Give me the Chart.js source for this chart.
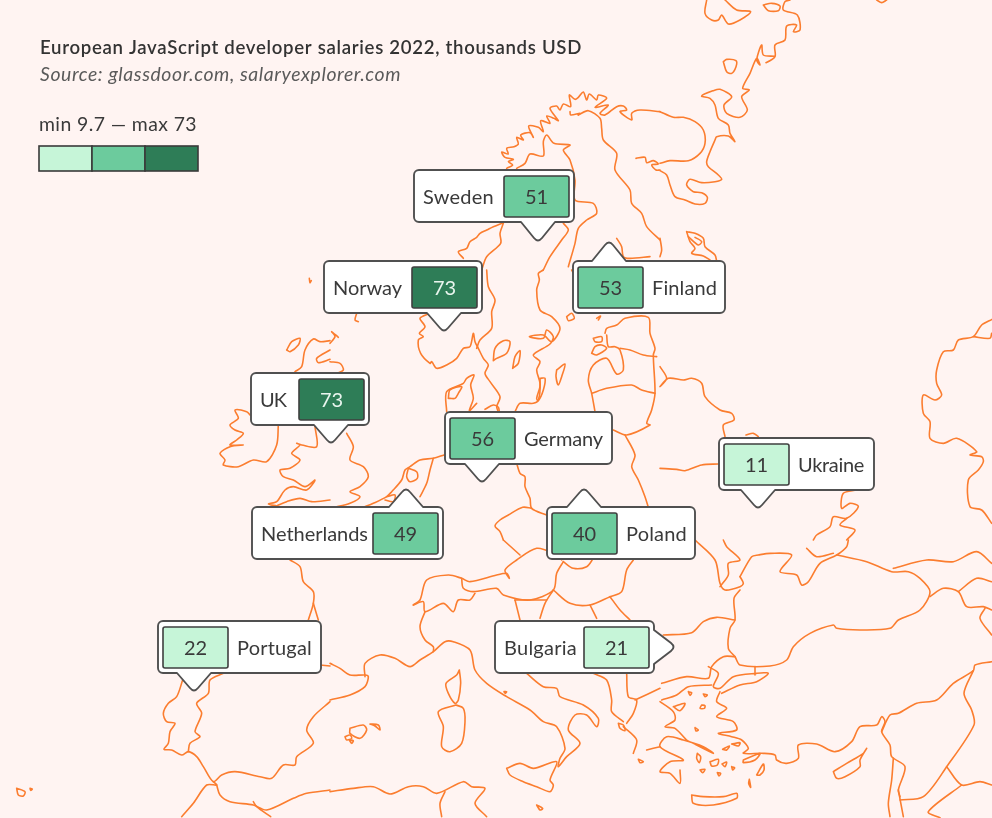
<!DOCTYPE html>
<html><head><meta charset="utf-8">
<style>html,body{margin:0;padding:0;background:#fff4f2;overflow:hidden}canvas{display:block}</style>
<script src="https://cdn.jsdelivr.net/npm/chart.js@4"></script>
</head><body><canvas id="c" width="992" height="818"></canvas>
<script>
// Chart values
const countries = ["Sweden","Norway","Finland","UK","Germany","Ukraine","Netherlands","Poland","Portugal","Bulgaria"];
const salaries  = [51,73,53,73,56,11,49,40,22,21];
const legendMin = 9.7, legendMax = 73;
const binColors = ["#c6f5d8","#6ccb9d","#2e7d57"];
const binEdges  = [30,60];
// Where each callout points on the map (map units: 3 per px)
const tipX = [1614,1332,1827,993,1446,2274,1218,1752,582,2022];
const tipY = [723,993,726,1329,1446,1524,1467,1467,2073,1941];
const tipDir = ["down","down","up","down","down","down","up","up","down","right"];
// Callout box, in map units
const boxLeft  = [1242,972,1719,753,1335,2157,756,1641,474,1485];
const boxRight = [1722,1446,2175,1107,1836,2622,1329,2085,963,1962];
const boxTop   = [510,783,783,1119,1236,1314,1521,1521,1863,1863];
const swatchOnLeft = [false,false,true,false,true,true,false,true,true,false];
const labelWidth = [71,69,65,26,79,66,107,61,75,73];

// Map outlines: [panelColumn, panelRow, x,y, x,y, ...]
const scandinaviaCoast = [1,0, 400,775,385,755,410,745,420,725,440,712,450,700,470,690,490,680,520,668];
const norwayNorthCoast = [1,0, 530,505,548,495,535,485,550,478,525,472,515,456,535,462,530,445,552,440,565,432,560,412,580,420,572,405,600,398,610,412,596,378,625,382,640,395,632,362,660,370,650,348,672,355,685,362,660,325,680,318,690,330,700,312,722,320,718,285,735,298,745,292,760,276,770,300,778,282,800,300,805,285,830,295,795,322,835,315,810,340,825,345,860,320,880,318,890,330,870,335,905,360,905,340,930,330,990,335];
const norwaySwedenBorder = [1,0, 560,505,585,490,600,462,640,468,640,425,650,405,672,430,720,435,700,450,720,480,735,540,735,600,790,610,800,640,770,660,745,685,735,730,715,800];
const norwaySwedenBorder2 = [1,0, 520,670,510,700,512,730,470,770,455,810];
const swedenBothniaCoast = [1,0, 700,670,715,690,695,720,660,770,640,810];
const finlandRussiaBorder = [1,0, 745,345,775,332,810,355,815,385,820,420,860,460,855,510,900,570,905,610,935,640,950,680,990,720];
const finlandNorthEdge = [1,0, 745,345,750,340,722,345,720,335];
const kolaNorth = [2,0, 0,335,40,352,70,352,105,365,130,390,135,430,120,460,85,482,30,482,0,490];
const kolaInlet = [1,0, 918,475,945,472,950,488,970,482,985,492,965,495,978,510,990,510];
const whiteSeaCoast = [2,0, 0,512,20,525,30,555,45,590,75,600,105,612,135,610,142,592,125,578,100,575,80,555,90,538,125,548,165,545,185,538,175,525,145,500,140,485,150,455,165,420,170,410,205,408,225,425,210,400,205,375,175,355,165,315,150,295,125,288,160,272,180,268,215,290,192,315,200,340,240,352,262,330,245,290,268,270,248,265,270,220,290,175,300,195,290,180,305,135,310,165,345,170,318,188,345,170,345,135,375,120,380,78,410,75,400,95,420,90,412,45,370,30,375,5,390,0];
const novayaSouth = [2,0, 140,0,135,40,155,60,175,60,185,45,205,72,240,60,272,35,230,30,195,0];
const arcticIsle = [2,0, 310,15,325,32,355,32,360,18,335,10,310,15];
const arcticIsle2 = [2,0, 650,0,665,8,680,0];
const smallLake = [2,0, 190,185,200,215,215,220,228,200,228,182,200,178,190,185];
const onega = [2,0, 80,695,105,700,130,715,135,740,165,765,170,785];
const ladoga = [2,0, 80,695,90,725,105,745,95,760,130,768,150,780];
const ladogaIn = [2,0, 85,710,115,735,125,725,105,712];
const edgeLake = [2,0, 0,715,5,750,0,770];
const topLeftIsle = [0,1, 928,25,930,38,934,32];
const finlandSW = [1,0, 860,715,875,740,880,770,900,775,960,770];

const norwaySouth = [1,1, 300,130,270,145,285,170,268,190,280,200,265,210,272,250,300,280,305,275,320,295,350,285,380,265,400,235,420,230,430,190,435,215,445,235,460,265,475,285,465,310,480,335,510,380,500,410,505,425];
const norwaySwedenSouth = [1,1, 470,0,475,50,495,90,485,125,485,175,450,210,440,235];
const swedenEast = [1,1, 640,0,625,10,628,30,620,60,630,120,665,140,690,175,665,215,640,195,598,200,640,205,650,180,670,200,660,222,610,255,630,275,620,300,630,340,625,390,610,400,570,400,555,425];
const oland = [1,1, 630,325,645,325,640,360,625,392,620,385,630,350,630,325];
const gotland = [1,1, 680,300,705,282,695,320,685,345,678,320,680,300];
const vanern = [1,1, 490,272,495,235,520,212,540,215,530,250,500,265,490,272];
const vattern = [1,1, 548,295,555,260,570,242,565,280,548,295];
const aland = [1,1, 710,140,725,130,733,145,715,152,710,140];
const finlandCoast = [1,1, 725,0,732,12];
const jutland = [1,1, 350,425,350,365,400,340,410,325,432,315,422,345,430,385,418,422,440,400];
const limfjord = [1,1, 355,385,360,360,395,350,385,370,375,385,360,385,355,385];
const danishIsle = [1,1, 465,418,490,405,505,412,508,425];
const estoniaNorth = [1,1, 825,190,830,175,860,165,885,145,955,142,960,190,975,235,970,255,975,370,965,420,950,460,960,465,890,495,850,480];
const estoniaLatvia = [1,1, 870,235,900,240,940,255,980,260];
const latviaCoast = [1,1, 830,195,835,230,855,230,870,240,880,300,860,312,830,265,790,285,775,330,785,370,795,425];
const latviaLithuania = [1,1, 785,370,830,355,905,345,935,360,975,370];
const saaremaa = [1,1, 785,250,795,230,815,225,830,235,800,255,785,250];
const hiiumaa = [1,1, 790,205,815,200,815,215,795,215,790,205];
const finlandGulf = [1,1, 800,145,812,138,805,150];
const polandEast = [1,1, 885,495,915,555,905,590,925,630,945,680,955,712];
const polandCzechLeft = [1,1, 560,580,570,610,585,620,585,650,600,685,605,715,650,735];
const germanyCzech = [1,1, 605,715,578,712,535,735,510,750,495,768,510,785,520,810];
const lowCountries = [1,1, 342,555,310,565,270,570,240,590,225,600,215,630,185,665,170,680,130,700,100,712];
const ijsselmeer = [1,1, 235,595,260,605,262,625,240,635,230,620,235,595];
const dutchBorder = [1,1, 310,565,300,600,290,640,270,680];
const zeeland = [1,1, 170,680,195,675,190,695,165,690];
const englandEast = [1,1, 50,490,70,530,60,570,100,590,115,620,90,650,60,665,90,680,60,700,20,710,0,712];
const scotlandEast = [1,1, 0,220,15,200,5,185,25,202];
const scotlandCoast = [1,1, 0,275,30,280,40,300,20,310];
const shetlandLike = [1,1, 80,130,75,150,85,155];

const ireland = [0,1, 750,435,740,425,705,420,715,445,690,465,705,480,730,490,710,510,690,525,730,525,690,530,660,550,675,570,670,585,715,590,760,570,800,575,830,525,835,465];
const hebrides = [0,1, 860,240,875,215,900,205,895,225,870,245,860,240];
const scotlandWest = [0,1, 885,305,905,290,915,240,940,207,960,215,990,212];
const scotlandFirth = [0,1, 990,240,950,265,955,278,990,268];
const walesCoast = [0,1, 945,470,950,530,905,525,890,520,900,525,875,550,900,570,870,595,840,600,850,620,880,630,915,650,945,630,920,660,880,650,855,660,830,695,805,702,830,708];
const franceNorth = [0,1, 830,708,860,695,900,685,935,695,990,690];

const franceWest = [0,2, 870,60,900,80,910,125,940,155,940,190,925,240];
const franceBiscay = [0,2, 940,190,955,240];
const spainFrance = [0,2, 960,375,990,378];
const portugalBorder = [0,2, 670,400,630,420,625,460,590,490,605,520,585,575,600,590,570,610,565,635];
const iberiaCoast = [0,2, 548,420,530,470,505,490,490,520,500,545,525,550,510,575,505,610,492,628,515,630,545,645,565,635,590,650,610,680,640,725,665,705,705,695,780,710,815,715,850,675,885,675,890,650,940,610,920,570,940,530,990,485];
const spainEastTail = [1,2, 0,480,60,465,105,440,115,410,105,405,60,405,30,385,0,370];
const gibraltar = [0,2, 545,830,580,790,620,735,650,735,640,725];
const moroccoCoast = [0,2, 650,735,660,765,690,785,760,795,800,810,880,775,920,760,990,750];
const moroccoInner = [0,2, 760,785,770,800,812,830];
const azores = [0,2, 50,745,75,755,70,768,55,765,50,745];
const azoresDot = [0,2, 90,745,97,747,92,751,90,745];
const algeria = [1,2, 0,755,70,745,130,740,180,762,235,740,280,740,320,760,400,725,425,740,465,745,435,790,470,830];
const tunisiaBorder = [1,2, 345,755,330,790,335,830];
const franceSouthItaly = [1,2, 105,410,105,370,150,345,195,355,240,380,270,360,310,335,345,305,370,305,420,330,435,390,470,430,530,470,600,510,640,545,680,560,705,625,690,655,685,680,710,650,750,610,715,570,735,525,770,525,800,560,805,535,760,495,690,470,680,445,640,440,590,400];
const corsica = [1,2, 388,390,392,430,385,480,375,490,355,460,348,430,380,405,388,390];
const sardinia = [1,2, 378,495,400,505,405,545,395,610,360,635,335,620,340,560,325,515,378,495];
const mallorca = [1,2, 60,565,100,555,110,570,90,595,60,580,60,565];
const menorca = [1,2, 120,552,145,555,150,570,135,558,120,552];
const ibiza = [1,2, 45,590,60,585,65,595,50,600,45,590];
const formentera = [1,2, 58,600,70,602,65,610,58,600];
const sicily = [1,2, 530,685,570,670,610,685,680,665,660,720,670,735,660,755,620,740,580,725,540,705,530,685];
const malta = [1,2, 620,795,638,805,630,810,620,795];
const elba = [1,2, 522,455,530,455,526,460,522,455];
const alpsNorth = [1,2, 250,195,270,180,290,120,355,105,395,115,420,125,500,105,530,100,538,115,525,90,560,60,620,25,670,40,695,60];
const bavariaCzech = [1,2, 520,0,570,45];
const austriaSouth = [1,2, 395,115,400,145,430,155,500,145,520,165,600,180,670,150,680,100,700,65];
const italyNorth = [1,2, 250,195,280,185,285,215,340,190,370,215,385,180,420,180,435,160];
const franceItaly = [1,2, 285,215,270,260,285,300,310,320,310,335];
const czechSlovakia = [1,2, 700,65,730,85,770,80,790,55];
const hungary = [1,2, 670,150,720,190,780,195,840,170,875,155,890,90,910,60];
const croatiaEast = [1,2, 670,150,645,190,630,235];
const slovenia = [1,2, 555,180,650,180];
const sloveniaDown = [1,2, 555,180,570,240];
const romaniaWest = [1,2, 780,195,800,235];
const romaniaSouth = [1,2, 840,170,870,210,900,240];
const albaniaCoast = [1,2, 790,400,830,420,845,480,845,515,880,545];
const albaniaEast = [1,2, 890,400,895,470,920,480,910,520,890,550];
const macedoniaGreece = [1,2, 915,480,990,445];
const greeceWest = [1,2, 880,560,920,600,910,640];
const greeceGulf = [1,2, 950,630,990,620];
const corfu = [1,2, 865,550,880,555,885,572,870,565,865,550];
const zante = [1,2, 925,658,940,665,930,668,925,658];

const belarusNorth = [2,1, 0,290,20,325,0,350,25,325,70,330,95,325,125,340,135,380,180,420,215,430,222,450,190,465,195,500];
const belarusUkraine = [2,1, 0,595,50,598,75,602,125,585,175,582];
const kurskBump = [2,1, 258,495,280,490,295,500];
const azovNorth = [2,1, 590,660,550,670,545,715,570,700,595,710,560,745,520,740,510,770,470,795,460,810];
const azovInner = [2,1, 560,745,540,765,585,780,560,810];
const kazakhWest = [2,1, 996,148,965,165,940,200,895,210,880,240,850,245,830,300,830,340,845,375,825,390,790,375,790,430,810,455,810,505,850,520,890,505,950,545,930,555,965,560,970,575,955,600,925,630,930,710,965,720,995,760];
const kazakhNorth = [2,1, 940,200,990,205,995,190];

const moldovaEast = [2,2, 105,0,165,60,180,130,195,150,240,140,250,130,240,110];
const dniester = [2,2, 190,0,200,20,240,60,205,70,205,105,180,140];
const ukraineCoast = [2,2, 240,110,275,50,295,45,330,40,395,45,360,95,410,105,425,135,445,125,480,70,530,45,560,20,565,0];
const crimeaNeck = [2,2, 440,25,470,50,520,40];
const blackSeaEast = [2,2, 530,45,620,65,695,95,745,95,780,115,810,155,780,210,715,240,690,265,600,270,530,265,520,255,450,280,400,320,380,360,330,378,240,375,225,350,205,325,210,265,225,240,222,175,240,150];
const bulgariaNorth = [2,2, 10,285,95,278,130,245,170,232,225,240];
const bulgariaSouth = [2,2, 5,430,80,410,145,415,155,380,190,350,225,350];
const thrace = [2,2, 145,380,175,400,160,440,180,445,220,410,290,400,325,400,290,425,240,435,185,460];
const thraceBorder = [2,2, 285,380,285,405];
const turkeySouth = [2,2, 180,455,170,485,200,505,170,530,220,545,230,570,175,580,215,590,245,600,265,625,250,640,310,640,345,645,350,660,380,670,415,655,415,615,470,612,525,635,575,605,600,560,650,555,665,530,675,545,665,575,690,615,695,650,735,680,715,750,720,770];
const israelCoast = [2,2, 700,655,695,720,685,790,690,830];
const jordanLine = [2,2, 715,750,730,830];
const syriaNorth = [2,2, 665,575,690,525,715,520,770,490,830,480,880,430,940,392,945,375,995,365];
const iraqSyria = [2,2, 940,392,912,460,935,510,942,555,860,680,790,770,720,780];
const iraqSaudi = [2,2, 860,680,905,735,960,725,995,735];
const jordanSaudi = [2,2, 905,735,805,815,840,833];
const caucasus = [2,2, 810,170,850,145,895,155,920,200,970,200,995,210];
const georgiaNorth = [2,2, 895,155,950,115,995,125];
const caspianTop = [2,2, 700,85,800,60,880,65,950,35,995,70];
const armeniaEdge = [2,2, 975,205,960,235,995,285];
const cyprus = [2,2, 520,695,560,670,610,640,620,625,600,660,600,680,555,710,530,715,520,695];
const crete = [2,2, 95,765,130,770,190,770,230,760,230,775,160,795,100,790,95,765];
const rhodes = [2,2, 290,705,310,672,312,690,300,705,290,705];
const karpathos = [2,2, 268,718,272,742,266,730,268,718];
const greeceCoastNorth = [2,2, 5,480,50,465,85,440,155,435];
const chalcidice = [2,2, 40,500,75,490,60,512,40,500];
const greeceMain = [2,2, 0,485,40,515,45,540,15,560,45,565,80,600,100,610,160,640,130,620,70,600,20,590,0,620,70,660,30,665,0,695,30,700,60,730,60,690];
const aegeanA = [2,2, 125,495,135,497,133,505,120,505,125,495];
const aegeanB = [2,2, 130,462,142,465,135,470,130,462];
const aegeanC = [2,2, 85,455,95,458,90,466,85,455];
const aegeanD = [2,2, 188,628,208,618,200,630,188,628];
const aegeanE = [2,2, 215,612,240,608,235,618,215,612];
const aegeanF = [2,2, 105,563,115,570,108,573,105,563];
const aegeanG = [2,2, 150,665,175,658,172,675,155,678,150,665];
const aegeanH = [2,2, 120,690,135,688,128,698,120,690];
const aegeanI = [2,2, 112,640,122,650,118,668,110,655,112,640];
const aegeanJ = [2,2, 186,672,200,666,195,680,186,672];
const aegeanK = [2,2, 215,680,224,683,218,690,215,680];
const aegeanL = [2,2, 172,698,182,700,177,708,172,698];
const aegeanM = [2,2, 250,660,300,640,285,660,250,668,250,660];

const outlines = [scandinaviaCoast,norwayNorthCoast,norwaySwedenBorder,norwaySwedenBorder2,swedenBothniaCoast,finlandRussiaBorder,finlandNorthEdge,kolaNorth,kolaInlet,whiteSeaCoast,novayaSouth,arcticIsle,arcticIsle2,smallLake,onega,ladoga,ladogaIn,edgeLake,topLeftIsle,finlandSW,norwaySouth,norwaySwedenSouth,swedenEast,oland,gotland,vanern,vattern,aland,finlandCoast,jutland,limfjord,danishIsle,estoniaNorth,estoniaLatvia,latviaCoast,latviaLithuania,saaremaa,hiiumaa,finlandGulf,polandEast,polandCzechLeft,germanyCzech,lowCountries,ijsselmeer,dutchBorder,zeeland,englandEast,scotlandEast,scotlandCoast,shetlandLike,ireland,hebrides,scotlandWest,scotlandFirth,walesCoast,franceNorth,franceWest,franceBiscay,spainFrance,portugalBorder,iberiaCoast,spainEastTail,gibraltar,moroccoCoast,moroccoInner,azores,azoresDot,algeria,tunisiaBorder,franceSouthItaly,corsica,sardinia,mallorca,menorca,ibiza,formentera,sicily,malta,elba,alpsNorth,bavariaCzech,austriaSouth,italyNorth,franceItaly,czechSlovakia,hungary,croatiaEast,slovenia,sloveniaDown,romaniaWest,romaniaSouth,albaniaCoast,albaniaEast,macedoniaGreece,greeceWest,greeceGulf,corfu,zante,belarusNorth,belarusUkraine,kurskBump,azovNorth,azovInner,kazakhWest,kazakhNorth,moldovaEast,dniester,ukraineCoast,crimeaNeck,blackSeaEast,bulgariaNorth,bulgariaSouth,thrace,thraceBorder,turkeySouth,israelCoast,jordanLine,syriaNorth,iraqSyria,iraqSaudi,jordanSaudi,caucasus,georgiaNorth,caspianTop,armeniaEdge,cyprus,crete,rhodes,karpathos,greeceCoastNorth,chalcidice,greeceMain,aegeanA,aegeanB,aegeanC,aegeanD,aegeanE,aegeanF,aegeanG,aegeanH,aegeanI,aegeanJ,aegeanK,aegeanL,aegeanM];

const FONT = 'Lato, "Open Sans", sans-serif';
const INK = "#3a3a3a";

function toPoints(a){
  const pts=[]; const ox=a[0]*990, oy=a[1]*810;
  for(let i=2;i<a.length;i+=2) pts.push({x:a[i]+ox,y:a[i+1]+oy});
  return pts;
}
function fitText(ctx,text,x,y,w,align){
  ctx.letterSpacing="0px";
  const m=ctx.measureText(text).width;
  ctx.letterSpacing=((w-m)/Math.max(1,text.length))+"px";
  ctx.textAlign=align||"left";
  ctx.fillText(text,x,y);
  ctx.letterSpacing="0px";
}
function binColor(v){ return v<binEdges[0]?binColors[0]:v<binEdges[1]?binColors[1]:binColors[2]; }
function rr(ctx,x,y,w,h,r){ctx.beginPath();ctx.roundRect(x,y,w,h,r);}

const calloutPlugin={id:"callouts",afterDatasetsDraw(chart){
  const ctx=chart.ctx, sx=chart.scales.x, sy=chart.scales.y;
  ctx.save();
  countries.forEach((name,i)=>{
    const L=sx.getPixelForValue(boxLeft[i]),R=sx.getPixelForValue(boxRight[i]);
    const T=sy.getPixelForValue(boxTop[i]),B=T+52;
    const tx=sx.getPixelForValue(tipX[i]),ty=sy.getPixelForValue(tipY[i]);
    const r=5,hb=17,d=tipDir[i];
    ctx.beginPath();
    ctx.moveTo(L+r,T);
    if(d==="up"){ctx.lineTo(tx-hb,T);ctx.lineTo(tx-4,ty+3);ctx.quadraticCurveTo(tx,ty-2,tx+4,ty+3);ctx.lineTo(tx+hb,T);}
    ctx.lineTo(R-r,T);ctx.arcTo(R,T,R,T+r,r);
    if(d==="right"){const m=T+26;ctx.lineTo(R,m-hb);ctx.lineTo(tx-3,m-4);ctx.quadraticCurveTo(tx+2,m,tx-3,m+4);ctx.lineTo(R,m+hb);}
    ctx.lineTo(R,B-r);ctx.arcTo(R,B,R-r,B,r);
    if(d==="down"){ctx.lineTo(tx+hb,B);ctx.lineTo(tx+4,ty-3);ctx.quadraticCurveTo(tx,ty+2,tx-4,ty-3);ctx.lineTo(tx-hb,B);}
    ctx.lineTo(L+r,B);ctx.arcTo(L,B,L,B-r,r);ctx.lineTo(L,T+r);ctx.arcTo(L,T,L+r,T,r);ctx.closePath();
    ctx.fillStyle="#fff";ctx.fill();ctx.strokeStyle="#505050";ctx.lineWidth=1.9;ctx.lineJoin="round";ctx.stroke();
    // swatch
    const sw=65,sh=41,swX=swatchOnLeft[i]?L+5:R-5-sw,swY=T+6;
    rr(ctx,swX,swY,sw,sh,2);ctx.fillStyle=binColor(salaries[i]);ctx.fill();
    ctx.strokeStyle="#3f3f3f";ctx.lineWidth=1.6;ctx.stroke();
    ctx.textBaseline="middle";
    ctx.font='20px '+FONT;
    ctx.fillStyle=salaries[i]>=60?"#e9f5ee":INK;
    ctx.textAlign="center";
    ctx.fillText(String(salaries[i]),swX+sw/2,T+28);
    ctx.fillStyle=INK;
    const lx=swatchOnLeft[i]?swX+sw+9:L+9;
    fitText(ctx,name,lx,T+28,labelWidth[i],"left");
  });
  ctx.restore();
}};
const titlePlugin={id:"headline",afterDraw(chart){
  const ctx=chart.ctx;
  ctx.save();
  ctx.textBaseline="alphabetic";
  ctx.fillStyle="#333";ctx.font='600 18.6px '+FONT;
  fitText(ctx,"European JavaScript developer salaries 2022, thousands USD",40,54,542);
  ctx.fillStyle="#5a5a5a";ctx.font='italic 19.4px '+FONT;
  fitText(ctx,"Source: glassdoor.com, salaryexplorer.com",40,81,361);
  ctx.fillStyle="#3a3a3a";ctx.font='19.4px '+FONT;
  fitText(ctx,"min "+legendMin+" — max "+legendMax,39,131,158);
  binColors.forEach((c,i)=>{
    ctx.fillStyle=c;ctx.fillRect(39+i*53,146,53,25);
    ctx.strokeStyle="#3a3a3a";ctx.lineWidth=1.6;ctx.strokeRect(39+i*53,146,53,25);
  });
  ctx.restore();
}};

const mapDatasets=outlines.map(a=>({
  type:"scatter",data:toPoints(a),showLine:true,borderColor:"#fb7d2f",borderWidth:1.6,
  pointRadius:0,pointHoverRadius:0,tension:0.3,fill:false,borderJoinStyle:"round",borderCapStyle:"round"
}));
new Chart(document.getElementById("c"),{
  type:"scatter",
  data:{datasets:[...mapDatasets,{label:"salaries",data:tipX.map((x,i)=>({x,y:tipY[i]})),pointRadius:0}]},
  options:{responsive:false,animation:false,events:[],
    layout:{padding:0},
    plugins:{legend:{display:false},tooltip:{enabled:false}},
    scales:{x:{type:"linear",min:0,max:2976,display:false},y:{type:"linear",min:0,max:2454,reverse:true,display:false}}
  },
  plugins:[calloutPlugin,titlePlugin]
});
</script></body></html>
